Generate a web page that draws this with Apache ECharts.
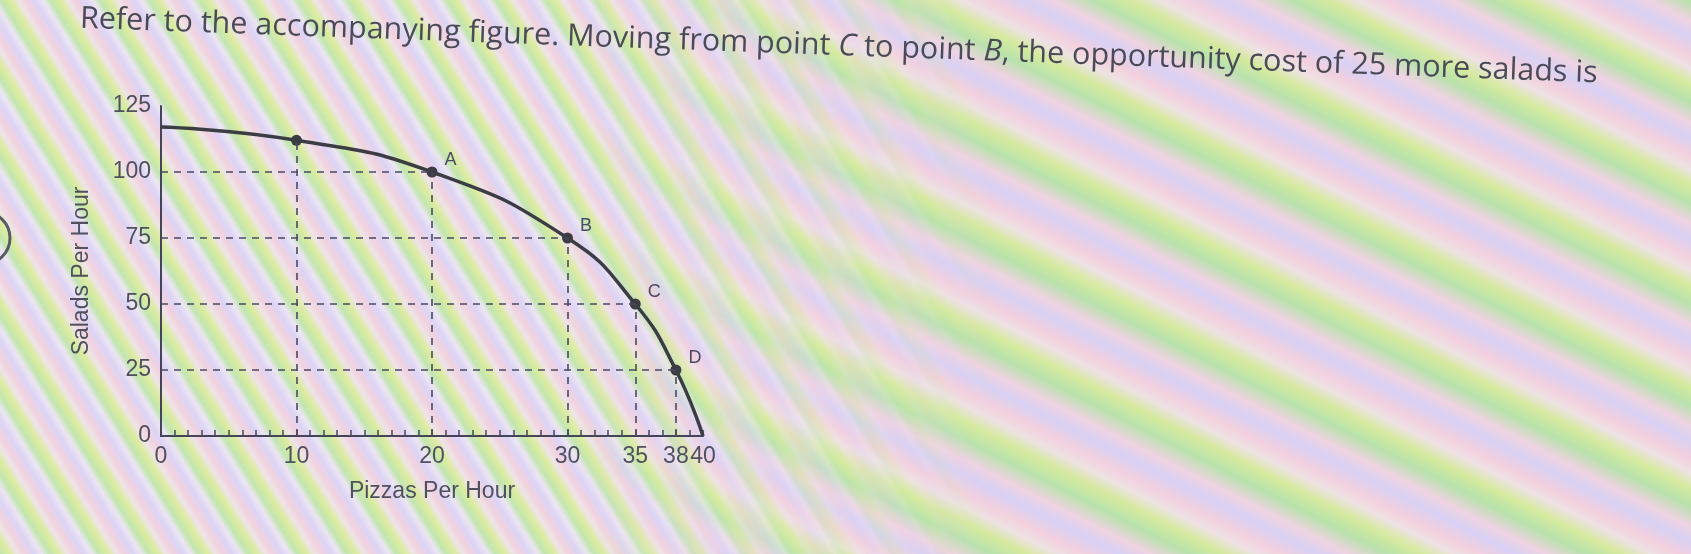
<!DOCTYPE html>
<html>
<head>
<meta charset="utf-8">
<script src="https://cdn.jsdelivr.net/npm/echarts@6/dist/echarts.min.js"></script>
<style>
  html, body { margin: 0; padding: 0; }
  body {
    width: 1691px; height: 554px; overflow: hidden; position: relative;
    background:
      repeating-linear-gradient(27deg,
        #b8e2ac 0px, #d6ea9e 16px, #eee2e4 30px, #f3d0de 42px,
        #d9d1f5 58px, #efd3e2 72px, #b8e2ac 90px);
  }
  #left {
    position: absolute; left: 0; top: 0; width: 1691px; height: 554px;
    background:
      repeating-linear-gradient(58deg,
        #c2e6b0 0px, #dcec9e 8px, #eee4e8 15px, #f2d2de 21px,
        #dcd4f6 29px, #ece6f2 36px, #c2e6b0 42px);
    -webkit-mask-image: linear-gradient(to right, #000 0px, #000 560px, transparent 1000px);
    mask-image: linear-gradient(to right, #000 0px, #000 560px, transparent 1000px);
  }
  #chart { position: absolute; left: 0; top: 0; width: 1691px; height: 554px; }
</style>
</head>
<body>
<div id="left"></div>
<div id="chart"></div>
<script>
// ---- data ----
const pizzas = [0, 10, 20, 30, 35, 38, 40];
const salads = [117, 112, 100, 75, 50, 25, 0];
const pointNames = ['', '', 'A', 'B', 'C', 'D', ''];
const marked = [false, true, true, true, true, true, false];
const xTickLabels = [0, 10, 20, 30, 35, 38, 40];
const yTickLabels = [0, 25, 50, 75, 100, 125];
const questionParts = ['Refer to the accompanying figure. Moving from point ', 'C', ' to point ', 'B', ', the opportunity cost of 25 more salads is'];

const ink = '#45455a';
const curveData = pizzas.map((x, i) => ({
  value: [x, salads[i]],
  symbolSize: marked[i] ? 11 : 0,
  label: { show: pointNames[i] !== '', formatter: pointNames[i] }
}));

const dropLines = [];
pizzas.forEach((x, i) => {
  if (!marked[i]) return;
  dropLines.push([{ coord: [x, 0] }, { coord: [x, salads[i]] }]);
  if (pointNames[i] !== '') dropLines.push([{ coord: [0, salads[i]] }, { coord: [x, salads[i]] }]);
});

const chart = echarts.init(document.getElementById('chart'), null, { renderer: 'canvas' });
chart.setOption({
  animation: false,
  backgroundColor: 'transparent',
  textStyle: { fontFamily: 'Liberation Sans, Arial, sans-serif' },
  grid: { left: 161, right: 988, top: 106, bottom: 118, containLabel: false },
  xAxis: {
    type: 'value', min: 0, max: 40, interval: 1,
    name: 'Pizzas Per Hour', nameLocation: 'middle', nameGap: 44,
    nameTextStyle: { fontSize: 23, color: '#50505e' },
    axisLine: { lineStyle: { color: ink, width: 2 } },
    axisTick: { show: true, inside: true, length: 6, lineStyle: { color: ink, width: 1.5 } },
    axisLabel: { customValues: xTickLabels, fontSize: 23, color: '#50505e', margin: 9 },
    splitLine: { show: false }
  },
  yAxis: {
    type: 'value', min: 0, max: 125, interval: 25,
    name: 'Salads Per Hour', nameLocation: 'middle', nameGap: 68, nameRotate: 90,
    nameTextStyle: { fontSize: 23, color: '#50505e' },
    axisLine: { show: true, lineStyle: { color: ink, width: 2 } },
    axisTick: { show: false },
    axisLabel: { customValues: yTickLabels, fontSize: 23, color: '#50505e', margin: 10 },
    splitLine: { show: false }
  },
  series: [{
    type: 'line',
    data: curveData,
    smooth: 0.5,
    symbol: 'circle',
    lineStyle: { color: '#3c3c44', width: 3.5 },
    itemStyle: { color: '#3c3c44' },
    label: { position: 'right', distance: 5, offset: [2, -12], fontSize: 18, color: '#4a4a64' },
    markLine: {
      silent: true, symbol: 'none', animation: false,
      label: { show: false },
      lineStyle: { type: [7, 6], color: '#4a4a62', width: 1.6 },
      emphasis: { disabled: true },
      data: dropLines
    },
    z: 3
  }],
  graphic: [
    {
      type: 'text', x: 80, y: 19, rotation: -0.036,
      style: {
        text: questionParts.map((p, i) => (i % 2 === 1 ? '{i|' + p + '}' : p)).join(''),
        font: '30.5px "Open Sans", sans-serif',
        fill: '#4b4b58',
        verticalAlign: 'middle',
        rich: { i: { fontStyle: 'italic', fontSize: 30.5, fontFamily: '"Open Sans", sans-serif', fill: '#4b4b58' } }
      }
    },
    {
      type: 'circle', shape: { cx: -16, cy: 238, r: 26 },
      style: { fill: 'none', stroke: '#5a5a66', lineWidth: 3 }
    }
  ]
});
</script>
</body>
</html>
